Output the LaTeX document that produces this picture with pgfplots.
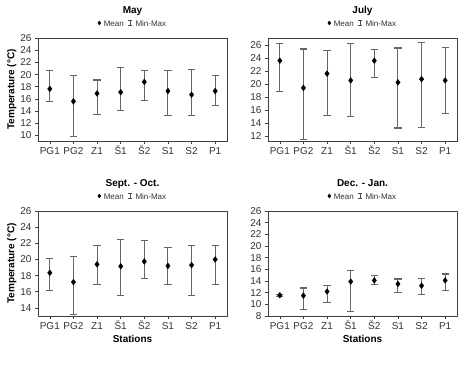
\documentclass[border=0pt]{standalone}
\usepackage{fontspec}
\setmainfont{Liberation Sans}
\usepackage{pgfplots}
\usepackage{pgfplotstable}
\pgfplotsset{compat=1.18}

\pgfplotstableread{
x mean min max
0 17.65 15.56 20.65
1 15.6 9.8 19.9
2 16.9 13.4 19.1
3 17.1 14.05 21.2
4 18.8 15.8 20.65
5 17.3 13.3 20.65
6 16.7 13.3 20.8
7 17.3 14.9 19.8
}\maydata
\pgfplotstableread{
x mean min max
0 23.6 18.8 26.2
1 19.4 11.5 25.4
2 21.6 15.1 25.2
3 20.55 14.95 26.3
4 23.6 21.0 25.3
5 20.25 13.2 25.55
6 20.75 13.3 26.4
7 20.55 15.5 25.6
}\julydata
\pgfplotstableread{
x mean min max
0 18.35 16.2 20.1
1 17.2 13.2 20.4
2 19.4 16.9 21.7
3 19.15 15.5 22.45
4 19.75 17.6 22.3
5 19.2 16.95 21.45
6 19.3 15.5 21.75
7 20.0 16.95 21.75
}\septdata
\pgfplotstableread{
x mean min max
0 11.55 11.4 11.7
1 11.5 9.1 12.8
2 12.2 10.35 13.2
3 13.9 8.7 15.75
4 14.1 13.4 14.9
5 13.5 12.0 14.35
6 13.2 11.7 14.45
7 14.1 12.4 15.2
}\decdata

\pgfplotsset{
  panel/.style={
    scale only axis, width=189pt,
    xmin=-0.5, xmax=7.5,
    xtick={0,...,7}, xticklabels={PG1,PG2,Z1,Š1,Š2,S1,S2,P1},
    ytick distance=2,
    tick align=outside, xtick pos=bottom, ytick pos=left,
    major tick length=3pt,
    axis line style={black!75, line width=0.7pt}, tick style={black!75, line width=0.6pt},
    tick label style={font=\fontsize{10}{12}\selectfont, color=black!80},
    xticklabel style={text height=1.6ex, text depth=0.2ex, inner sep=1.5pt},
    /pgf/number format/assume math mode=true,
    title style={at={(0.5,1)}, anchor=base, yshift=18pt, font=\bfseries\fontsize{10}{12}\selectfont},
    label style={font=\bfseries\fontsize{10}{12}\selectfont},
    ylabel shift=-3pt,
    legend style={at={(0.5,1)}, anchor=center, yshift=15pt, draw=none, fill=none,
      legend columns=2, font=\fontsize{8}{9}\selectfont, text=black!80,
      /tikz/every odd column/.append style={column sep=2pt},
      /tikz/every even column/.append style={column sep=3pt},
      nodes={inner sep=1pt, text height=1.5ex, text depth=0.3ex}},
  },
  errplot/.style={forget plot, draw=none, mark=none,
    error bars/.cd, y dir=both, y explicit,
    error bar style={black!60, line width=1.1pt},
    error mark options={black!60, line width=1.1pt, mark size=3.6pt, rotate=90}},
  meanplot/.style={only marks, mark=diamond*, mark size=2.9pt, black},
}

\newcommand{\panel}[1]{%
  \addplot[errplot] table[x=x, y=mean,
    y error plus expr=\thisrow{max}-\thisrow{mean},
    y error minus expr=\thisrow{mean}-\thisrow{min}] {#1};
  \addplot[meanplot] table[x=x, y=mean] {#1};
  \addlegendentry{Mean}
  \addlegendimage{legend image code/.code={
    \draw[black!70, line width=0.7pt] (0.1cm,-0.09cm) -- (0.1cm,0.09cm);
    \draw[black!70, line width=0.7pt] (0.03cm,-0.09cm) -- (0.17cm,-0.09cm);
    \draw[black!70, line width=0.7pt] (0.03cm,0.09cm) -- (0.17cm,0.09cm);}}
  \addlegendentry{Min-Max}
}

\begin{document}
\begin{tikzpicture}[x=1pt,y=1pt]
\useasboundingbox (0,0) rectangle (474,366);

\begin{axis}[panel, at={(38pt,225pt)}, anchor=south west, height=103pt,
  ymin=9.1, ymax=26, title={May}, ylabel={Temperature (°C)},
  legend image code/.code={\draw[black, fill=black] plot[mark=diamond*, mark size=2pt] coordinates {(0.1cm,0cm)};}]
\panel{\maydata}
\end{axis}

\begin{axis}[panel, at={(268pt,225pt)}, anchor=south west, height=103pt,
  ymin=11.2, ymax=27.1, title={July},
  legend image code/.code={\draw[black, fill=black] plot[mark=diamond*, mark size=2pt] coordinates {(0.1cm,0cm)};}]
\panel{\julydata}
\end{axis}

\begin{axis}[panel, at={(38pt,50pt)}, anchor=south west, height=105pt,
  ymin=13, ymax=26, title={Sept. - Oct.}, ylabel={Temperature (°C)}, xlabel={Stations},
  legend image code/.code={\draw[black, fill=black] plot[mark=diamond*, mark size=2pt] coordinates {(0.1cm,0cm)};}]
\panel{\septdata}
\end{axis}

\begin{axis}[panel, at={(268pt,50pt)}, anchor=south west, height=105pt,
  ymin=8, ymax=26, title={Dec. - Jan.}, xlabel={Stations},
  legend image code/.code={\draw[black, fill=black] plot[mark=diamond*, mark size=2pt] coordinates {(0.1cm,0cm)};}]
\panel{\decdata}
\end{axis}
\end{tikzpicture}
\end{document}
